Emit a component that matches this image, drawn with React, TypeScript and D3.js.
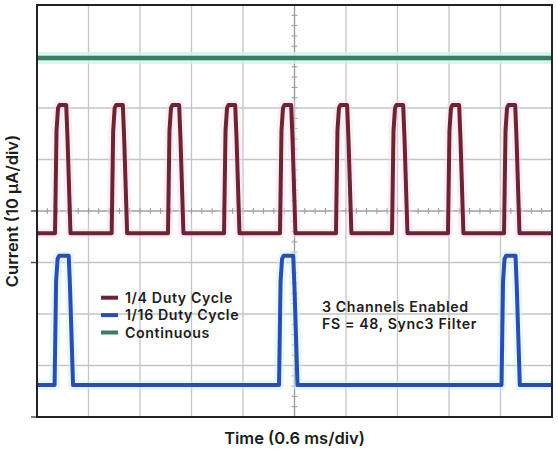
import React from 'react';
import * as d3 from 'd3';

// scope settings
const msPerDiv = 0.6;
const uaPerDiv = 10;
const timeDivs = 10;
const currentDivs = 8;

// levels in µA above the bottom graticule line
const continuousLevel = 69.7;
const quarterLow = 35.7;
const quarterHigh = 60.6;
const sixteenthLow = 6.2;
const sixteenthHigh = 31.3;

// pulse edges in ms (start of rise, start of fall)
const quarterRises = [0.21, 0.87, 1.526, 2.179, 2.831, 3.483, 4.136, 4.788, 5.441];
const quarterFalls = [0.34, 1.0, 1.656, 2.309, 2.961, 3.613, 4.266, 4.918, 5.571];
const sixteenthRises = [0.205, 2.82, 5.412];
const sixteenthFalls = [0.37, 2.985, 5.575];

// channel reference markers on the left edge (µA)
const markerLevels = [40, 30, 0];

const legendItems = [
  { label: '1/4 Duty Cycle', color: '#6c2430' },
  { label: '1/16 Duty Cycle', color: '#2b4cb0' },
  { label: 'Continuous', color: '#3b7e5e' },
];
const noteLines = ['3 Channels Enabled', 'FS = 48, Sync3 Filter'];

const W = 558;
const H = 450;
const left = 37;
const right = 552;
const top = 5;
const bottom = 417;
const font = 'Inter, "Open Sans", sans-serif';
const rowGap = 17.4;
const riseRamp = 0.035;
const fallRamp = 0.05;

function pulseTrace(rises: number[], falls: number[], low: number, high: number): [number, number][] {
  const pts: [number, number][] = [[0, low]];
  rises.forEach((r, i) => {
    const f = falls[i];
    const span = high - low;
    pts.push([r, low], [r + riseRamp * 0.5, low + span * 0.8], [r + riseRamp, high - 0.6], [r + riseRamp * 1.5, high]);
    pts.push([f, high], [f + fallRamp * 0.3, high - span * 0.25], [f + fallRamp, low]);
  });
  pts.push([msPerDiv * timeDivs, low]);
  return pts;
}

export default function App() {
  const x = d3.scaleLinear().domain([0, msPerDiv * timeDivs]).range([left, right]);
  const y = d3.scaleLinear().domain([0, uaPerDiv * currentDivs]).range([bottom, top]);
  const line = d3
    .line<[number, number]>()
    .x((d) => x(d[0]))
    .y((d) => y(d[1]));

  const vGrid = d3.range(timeDivs + 1).map((i) => i * msPerDiv);
  const hGrid = d3.range(currentDivs + 1).map((i) => i * uaPerDiv);
  const midT = (msPerDiv * timeDivs) / 2;
  const midI = (uaPerDiv * currentDivs) / 2;
  const minorT = d3.range(timeDivs * 5 + 1).map((i) => (i * msPerDiv) / 5);
  const minorI = d3.range(currentDivs * 5 + 1).map((i) => (i * uaPerDiv) / 5);

  const continuous: [number, number][] = [
    [0, continuousLevel],
    [msPerDiv * timeDivs, continuousLevel],
  ];
  const quarter = pulseTrace(quarterRises, quarterFalls, quarterLow, quarterHigh);
  const sixteenth = pulseTrace(sixteenthRises, sixteenthFalls, sixteenthLow, sixteenthHigh);

  return (
    <div style={{ position: 'absolute', left: 0, top: 0 }}>
      <svg width={W} height={H} style={{ display: 'block', background: '#fff' }}>
        <defs>
          <clipPath id="plot">
            <rect x={left} y={top} width={right - left} height={bottom - top} />
          </clipPath>
        </defs>
        {vGrid.map((t) => (
          <line key={'v' + t} x1={x(t)} x2={x(t)} y1={top} y2={bottom} stroke="#c4c4c8" strokeWidth={1.3} />
        ))}
        {hGrid.map((v) => (
          <line key={'h' + v} x1={left} x2={right} y1={y(v)} y2={y(v)} stroke="#c4c4c8" strokeWidth={1.3} />
        ))}
        {minorT.map((t) => (
          <line key={'mt' + t} x1={x(t)} x2={x(t)} y1={y(midI) - 3} y2={y(midI) + 3} stroke="#9a9aa0" strokeWidth={1} />
        ))}
        {minorI.map((v) => (
          <line key={'mi' + v} x1={x(midT) - 3} x2={x(midT) + 3} y1={y(v)} y2={y(v)} stroke="#9a9aa0" strokeWidth={1} />
        ))}
        <line x1={left} x2={right} y1={y(midI)} y2={y(midI)} stroke="#9a9aa0" strokeWidth={1.2} />
        <line x1={x(midT)} x2={x(midT)} y1={top} y2={bottom} stroke="#9a9aa0" strokeWidth={1.2} />

        <g clipPath="url(#plot)" fill="none" strokeLinejoin="round" strokeLinecap="round">
          <path d={line(continuous) ?? ''} stroke="#c9f4f2" strokeWidth={12} opacity={0.8} />
          <path d={line(quarter) ?? ''} stroke="#fbd6ec" strokeWidth={10} opacity={0.45} />
          <path d={line(sixteenth) ?? ''} stroke="#cdf4f4" strokeWidth={10} opacity={0.5} />
          <path d={line(continuous) ?? ''} stroke={legendItems[2].color} strokeWidth={4.5} />
          <path d={line(quarter) ?? ''} stroke={legendItems[0].color} strokeWidth={4} />
          <path d={line(sixteenth) ?? ''} stroke={legendItems[1].color} strokeWidth={4} />
        </g>

        <rect x={left} y={top} width={right - left} height={bottom - top} fill="none" stroke="#222" strokeWidth={2} />
        {markerLevels.map((v) => (
          <line key={'m' + v} x1={31} x2={36} y1={y(v)} y2={y(v)} stroke="#555" strokeWidth={1.5} />
        ))}

        <g fontFamily={font} fontWeight={600} fill="#1c1c1c">
          <g fontSize={14.2} letterSpacing={0.6}>
            {legendItems.map((d, i) => (
              <g key={d.label} transform={`translate(101, ${297.7 + i * rowGap})`}>
                <line x1={0} x2={17} y1={0} y2={0} stroke={d.color} strokeWidth={4} />
                <text x={24} y={0} dy="0.36em">
                  {d.label}
                </text>
              </g>
            ))}
            {noteLines.map((t, i) => (
              <text key={t} x={322} y={306.7 + i * rowGap} dy="0.36em">
                {t}
              </text>
            ))}
          </g>
          <g fontSize={16.5}>
            <text x={(left + right) / 2} y={444} textAnchor="middle">
              Time (0.6 ms/div)
            </text>
            <text transform={`translate(18, ${(top + bottom) / 2}) rotate(-90)`} textAnchor="middle">
              Current (10 µA/div)
            </text>
          </g>
        </g>
      </svg>
    </div>
  );
}
